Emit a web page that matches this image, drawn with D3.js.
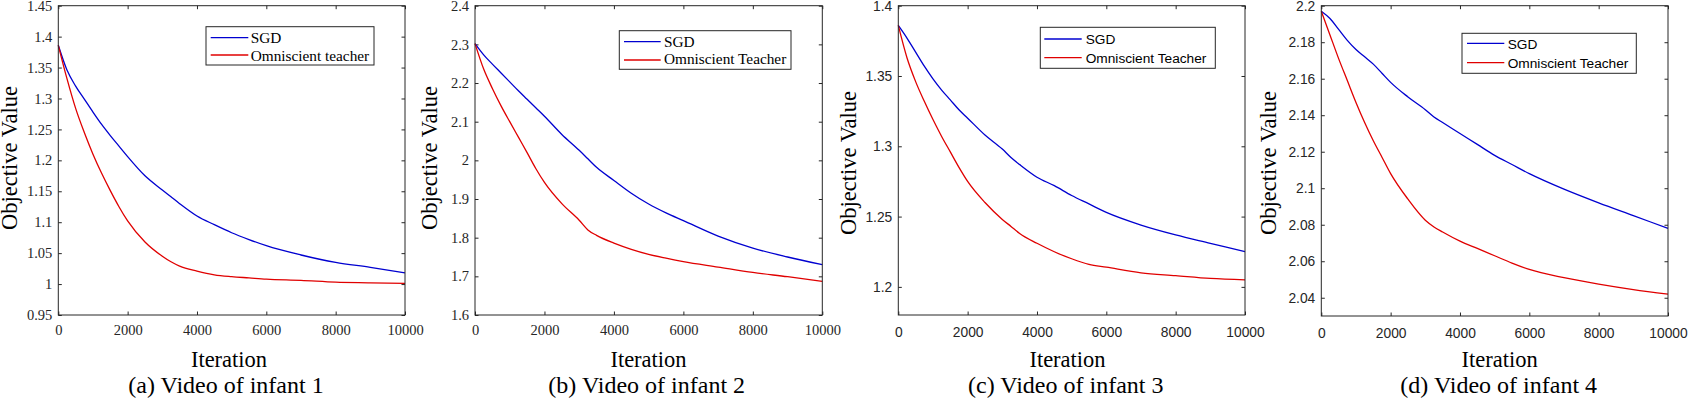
<!DOCTYPE html>
<html><head><meta charset="utf-8">
<script src="https://cdn.jsdelivr.net/npm/d3@7"></script>
<style>html,body{margin:0;padding:0;background:#fff;}svg{display:block;}</style>
</head><body><svg id="chart" width="1692" height="401"></svg>
<script>
// ---------- data ----------
const iterations = [0,250,500,750,1000,1250,1500,1750,2000,2500,3000,3250,3500,4000,4500,5000,5500,6000,7000,8000,9000,10000];

const sgdA     = [1.386,1.346,1.320,1.299,1.278,1.258,1.240,1.223,1.206,1.175,1.152,1.141,1.130,1.110,1.096,1.083,1.072,1.062,1.047,1.035,1.027,1.018];
const teacherA = [1.386,1.332,1.284,1.245,1.210,1.179,1.151,1.125,1.102,1.068,1.045,1.036,1.029,1.021,1.015,1.012,1.010,1.008,1.006,1.003,1.002,1.001];

const sgdB     = [2.302,2.273,2.249,2.226,2.203,2.180,2.158,2.136,2.114,2.067,2.026,2.004,1.982,1.948,1.915,1.887,1.864,1.844,1.804,1.773,1.750,1.730];
const teacherB = [2.302,2.236,2.186,2.141,2.100,2.060,2.020,1.979,1.943,1.888,1.845,1.820,1.806,1.786,1.770,1.757,1.747,1.738,1.724,1.710,1.699,1.687];

const sgdC     = [1.386,1.377,1.367,1.357,1.348,1.340,1.333,1.326,1.320,1.308,1.298,1.292,1.287,1.278,1.272,1.265,1.259,1.253,1.244,1.237,1.231,1.225];
const teacherC = [1.386,1.363,1.346,1.332,1.319,1.307,1.296,1.285,1.275,1.260,1.248,1.243,1.238,1.231,1.225,1.220,1.216,1.214,1.210,1.208,1.206,1.205];

const sgdD     = [2.197,2.193,2.187,2.181,2.176,2.172,2.168,2.163,2.158,2.150,2.143,2.139,2.136,2.130,2.124,2.118,2.113,2.108,2.0995,2.092,2.085,2.078];
const teacherD = [2.197,2.184,2.171,2.159,2.147,2.136,2.126,2.117,2.108,2.094,2.0825,2.0788,2.076,2.071,2.067,2.063,2.059,2.0555,2.051,2.0475,2.0445,2.042];

const xTicks  = [0,2000,4000,6000,8000,10000];
const yTicksA = [0.95,1,1.05,1.1,1.15,1.2,1.25,1.3,1.35,1.4,1.45];
const yTicksB = [1.6,1.7,1.8,1.9,2,2.1,2.2,2.3,2.4];
const yTicksC = [1.2,1.25,1.3,1.35,1.4];
const yTicksD = [2.04,2.06,2.08,2.1,2.12,2.14,2.16,2.18,2.2];
const yDomainA = [0.95,1.45];
const yDomainB = [1.6,2.4];
const yDomainC = [1.18,1.4];
const yDomainD = [2.03,2.2];

const seriesNames = ["SGD","Omniscient teacher","Omniscient Teacher"];
const captions = ["(a) Video of infant 1","(b) Video of infant 2","(c) Video of infant 3","(d) Video of infant 4"];
const xLabel = "Iteration";
const yLabel = "Objective Value";

// ---------- layout / style ----------
const SERIF = "'Liberation Serif','Times New Roman',Times,serif";
const SANS  = "'Liberation Sans',Arial,Helvetica,sans-serif";
const AXC = "#262626";
const BLUE = "#0000d0", RED = "#e00000";

const panels = [
  {sgd:sgdA, teacher:teacherA, yDomain:yDomainA, yTicks:yTicksA, name2:seriesNames[1], caption:captions[0],
   L:58.3, R:405, T:5.7, B:315, tickFont:SERIF, tickSize:14.5, xTickY:20, legFont:SERIF, legSize:15.3,
   leg:{x0:206, x1:374, y0:26.7, y1:65, l0:210.7, l1:248.3, ly1:37.7, ly2:55, tx:250.7, tb1:42.7, tb2:60.7},
   ylabX:17, ylabY:158, xlabX:229, capX:226},
  {sgd:sgdB, teacher:teacherB, yDomain:yDomainB, yTicks:yTicksB, name2:seriesNames[2], caption:captions[1],
   L:475, R:822.3, T:5.7, B:315, tickFont:SERIF, tickSize:14.5, xTickY:20, legFont:SERIF, legSize:15.3,
   leg:{x0:619.3, x1:791, y0:30.7, y1:69.3, l0:624, l1:660.7, ly1:41.7, ly2:60, tx:664, tb1:46.7, tb2:64.3},
   ylabX:437, ylabY:158, xlabX:648.5, capX:646.7},
  {sgd:sgdC, teacher:teacherC, yDomain:yDomainC, yTicks:yTicksC, name2:seriesNames[2], caption:captions[2],
   L:898.3, R:1245, T:5.7, B:315, tickFont:SANS, tickSize:13.8, xTickY:22, legFont:SANS, legSize:13.7,
   leg:{x0:1040.3, x1:1215.3, y0:27.3, y1:68.3, l0:1044.3, l1:1081.7, ly1:39, ly2:57.7, tx:1085.7, tb1:44, tb2:62.7},
   ylabX:856, ylabY:163, xlabX:1067.5, capX:1065.8},
  {sgd:sgdD, teacher:teacherD, yDomain:yDomainD, yTicks:yTicksD, name2:seriesNames[2], caption:captions[3],
   L:1321.3, R:1668, T:5.7, B:316, tickFont:SANS, tickSize:13.8, xTickY:22, legFont:SANS, legSize:13.7,
   leg:{x0:1462, x1:1636.3, y0:33.3, y1:73.3, l0:1467, l1:1504.3, ly1:43.3, ly2:62.7, tx:1507.7, tb1:49.3, tb2:68.3},
   ylabX:1276, ylabY:163, xlabX:1499.7, capX:1498.7}
];

const svg = d3.select("#chart");
svg.append("rect").attr("width",1692).attr("height",401).attr("fill","#fff");

const fmt = d => String(+d.toFixed(4));
const TK = 3.5;

panels.forEach(p => {
  const x = d3.scaleLinear().domain([0,10000]).range([p.L,p.R]);
  const y = d3.scaleLinear().domain(p.yDomain).range([p.B,p.T]);
  const g = svg.append("g");

  const styleAxis = (sel) => {
    sel.select(".domain").remove();
    sel.selectAll("line").attr("stroke",AXC).attr("stroke-width",1);
    sel.selectAll("text").attr("fill",AXC).style("font-family",p.tickFont).style("font-size",p.tickSize+"px");
  };

  g.append("g").attr("transform",`translate(${p.L},0)`)
    .call(d3.axisLeft(y).tickValues(p.yTicks).tickFormat(fmt).tickSizeInner(-TK).tickSizeOuter(0).tickPadding(6))
    .call(styleAxis);
  g.append("g").attr("transform",`translate(${p.R},0)`)
    .call(d3.axisRight(y).tickValues(p.yTicks).tickFormat("").tickSizeInner(-TK).tickSizeOuter(0))
    .call(styleAxis);
  const bx = g.append("g").attr("transform",`translate(0,${p.B})`)
    .call(d3.axisBottom(x).tickValues(xTicks).tickFormat(d3.format("d")).tickSizeInner(-TK).tickSizeOuter(0))
    .call(styleAxis);
  bx.selectAll("text").attr("y",p.xTickY).attr("dy",null);
  g.append("g").attr("transform",`translate(0,${p.T})`)
    .call(d3.axisTop(x).tickValues(xTicks).tickFormat("").tickSizeInner(-TK).tickSizeOuter(0))
    .call(styleAxis);

  const line = d3.line().curve(d3.curveMonotoneX).x((d,i)=>x(iterations[i])).y(d=>y(d));
  g.append("path").datum(p.sgd).attr("d",line).attr("fill","none").attr("stroke",BLUE).attr("stroke-width",1.3);
  g.append("path").datum(p.teacher).attr("d",line).attr("fill","none").attr("stroke",RED).attr("stroke-width",1.3);

  g.append("rect").attr("x",p.L).attr("y",p.T).attr("width",p.R-p.L).attr("height",p.B-p.T)
    .attr("fill","none").attr("stroke",AXC).attr("stroke-width",1);

  const l = p.leg;
  g.append("rect").attr("x",l.x0).attr("y",l.y0).attr("width",l.x1-l.x0).attr("height",l.y1-l.y0)
    .attr("fill","#fff").attr("stroke",AXC).attr("stroke-width",1);
  g.append("line").attr("x1",l.l0).attr("x2",l.l1).attr("y1",l.ly1).attr("y2",l.ly1).attr("stroke",BLUE).attr("stroke-width",1.3);
  g.append("line").attr("x1",l.l0).attr("x2",l.l1).attr("y1",l.ly2).attr("y2",l.ly2).attr("stroke",RED).attr("stroke-width",1.3);
  g.append("text").attr("x",l.tx).attr("y",l.tb1).text(seriesNames[0])
    .style("font-family",p.legFont).style("font-size",p.legSize+"px").attr("fill","#000");
  g.append("text").attr("x",l.tx).attr("y",l.tb2).text(p.name2)
    .style("font-family",p.legFont).style("font-size",p.legSize+"px").attr("fill","#000");

  g.append("text").attr("transform",`translate(${p.ylabX},${p.ylabY}) rotate(-90)`).attr("text-anchor","middle")
    .style("font-family",SERIF).style("font-size","22.5px").attr("fill","#000").text(yLabel);
  g.append("text").attr("x",p.xlabX).attr("y",366.5).attr("text-anchor","middle")
    .style("font-family",SERIF).style("font-size","22.5px").attr("fill","#000").text(xLabel);
  g.append("text").attr("x",p.capX).attr("y",393).attr("text-anchor","middle")
    .style("font-family",SERIF).style("font-size","24px").attr("fill","#000").text(p.caption);
});
</script></body></html>
